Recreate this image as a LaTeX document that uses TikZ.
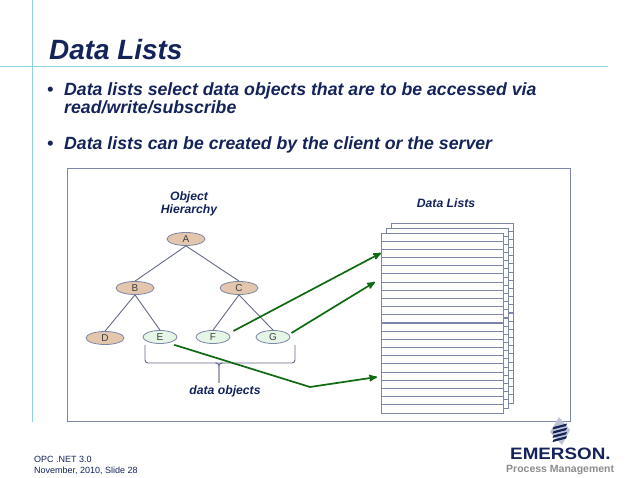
\documentclass[tikz,border=0pt]{standalone}
\usepackage{fontspec}
\setmainfont{Liberation Sans}
\usepackage{xcolor}
\usetikzlibrary{arrows,shapes.geometric}
\definecolor{navy}{HTML}{14235A}
\definecolor{rule}{HTML}{8FD0E4}
\definecolor{frame}{HTML}{7C86A8}
\definecolor{tan}{HTML}{E3C6AC}
\definecolor{mint}{HTML}{E6F6E6}
\definecolor{pick}{HTML}{0F6A12}

\begin{document}
\begin{tikzpicture}[
  x=1pt,y=-1pt,
  font=\fontsize{12.2}{13.5}\selectfont\bfseries\itshape,
  every node/.style={align=center,text=navy},
  parent/.style={ellipse,draw=frame,thick,fill=tan,inner sep=0,minimum width=38pt,minimum height=13pt,
    font=\fontsize{10}{12}\selectfont,text=black!75},
  leaf/.style={parent,fill=mint,minimum width=34pt},
  branch/.style={draw=frame!80!black,line width=.9pt},
  sheet/.style={draw=frame,line width=1.1pt,fill=white,anchor=north west,inner sep=0,minimum width=122pt,minimum height=180pt},
  body/.style={anchor=base west,inner sep=0,align=left,font=\fontsize{17.7}{18}\selectfont\bfseries\itshape},
  to/.style={->,>=stealth',draw=pick,line width=1.7pt,shorten >=0pt}]

  \useasboundingbox (0,0) rectangle (638,478);

  % Title, rules and bullets
  \draw[rule,line width=1pt] (32.5,0) -- (32.5,422);
  \draw[rule,line width=1pt] (0,67) -- (608,67);
  \node[body,font=\fontsize{27.9}{30}\selectfont\bfseries\itshape] (title) at (49,59.5) {Data Lists};
  \node[body] (dot_one) at (47,96) {\textbullet};
  \node[body] (line_one) at (64,96) {Data lists select data objects that are to be accessed via};
  \node[body] (line_two) at (64,114) {read/write/subscribe};
  \node[body] (dot_two) at (47,150) {\textbullet};
  \node[body] (line_three) at (64,150) {Data lists can be created by the client or the server};

  % The frame round the diagram
  \node[draw=frame,line width=1.1pt,anchor=north west,inner sep=0,minimum width=503pt,minimum height=253pt] (panel) at (67,168) {};

  % Position the tree nodes
  \node[parent] (a) at (186,239) {A};
  \node[parent] (b) at (135,288) {B};
  \node[parent] (c) at (239,288) {C};
  \node[parent] (d) at (105,338) {D};
  \node[leaf] (e) at (160,337) {E};
  \node[leaf] (f) at (213,337) {F};
  \node[leaf] (g) at (273,337) {G};

  \draw[branch] (a.south) -- (b.north);
  \draw[branch] (a.south) -- (c.north);
  \draw[branch] (b.south) -- (d.north);
  \draw[branch] (b.south) -- (e.north);
  \draw[branch] (c.south) -- (f.north);
  \draw[branch] (c.south) -- (g.north);

  \node (hierarchy) at (189,204) {Object\\Hierarchy};
  \node (lists) at (446,203) {Data Lists};
  \node (objects) at (225,391) {data objects};

  % The brace under the leaves
  \coordinate (brace_l) at (145,345);
  \coordinate (brace_r) at (295,345);
  \coordinate (brace_m) at (219,383);
  \draw[branch,rounded corners=3pt] (brace_l) |- (219,363) -| (brace_r);
  \draw[branch,rounded corners=3pt] (215,363) -| (brace_m);
  \draw[branch,rounded corners=3pt] (223,363) -| (brace_m);

  % The three sheets, back one first
  \foreach \name/\px/\py in {back/391/223,middle/386/228,front/381/233} {
    \node[sheet] (\name) at (\px,\py) {};
    \foreach \row in {1,...,21}
      \draw[draw=frame,line width=1.1pt] ([yshift=-\row*8.18pt]\name.north west) -- ([yshift=-\row*8.18pt]\name.north east);
  }

  % Arrows from the leaves to the sheets
  \coordinate (to_f) at (381,253);
  \coordinate (to_g) at (375,282);
  \coordinate (to_e) at (377,377);
  \coordinate (bend_e) at (310,387);
  \draw[to] (f.east) ++(3,-6) -- (to_f);
  \draw[to] (g.east) ++(1,-4) -- (to_g);
  \draw[to] (e.south east) ++(2,3) -- (bend_e) -- (to_e);

  % Footer
  \node[anchor=base west,inner sep=0,align=left,font=\fontsize{9}{11}\selectfont,text=navy] (course) at (34,463) {OPC .NET 3.0};
  \node[anchor=base west,inner sep=0,align=left,font=\fontsize{9}{11}\selectfont,text=navy] (slide) at (34,474) {November, 2010, Slide 28};

  % Logo
  \fill[frame!50] (559,417) -- (570,430) -- (562,445) -- (550,432) -- cycle;
  \foreach \dy in {0,1,2,3}
    \fill[navy] (553.5,427+\dy*4.2) -- (567,423.5+\dy*4.2) -- (566,426+\dy*4.2) -- (552.5,429.5+\dy*4.2) -- cycle;
  \node[anchor=base west,inner sep=0,xscale=1.14,font=\fontsize{16.5}{18}\selectfont\bfseries,text=navy] (brand) at (510,459.5) {EMERSON.};
  \node[anchor=base west,inner sep=0,font=\fontsize{10.5}{14}\selectfont\bfseries,text=black!45] (division) at (506,473) {Process Management};
\end{tikzpicture}
\end{document}
